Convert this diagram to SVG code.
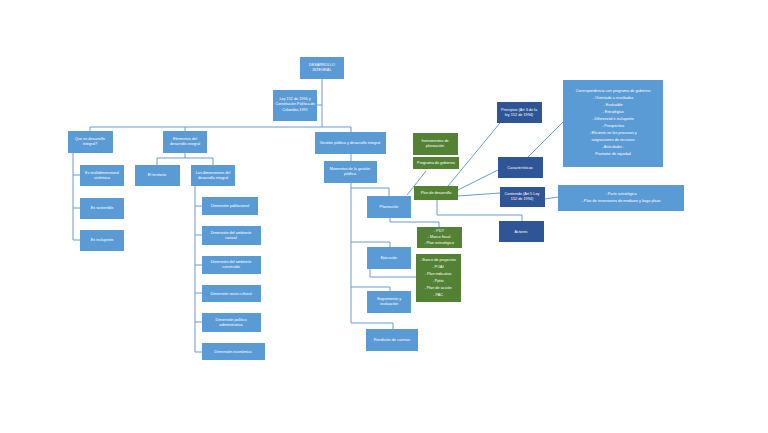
<svg xmlns="http://www.w3.org/2000/svg" width="768" height="433" viewBox="0 0 768 433">
<style>
.l{fill:#5b9bd5}.d{fill:#2f5597}.g{fill:#548235}
text{font-family:"Liberation Sans",Arial,sans-serif;font-size:3.8px;fill:#fff;text-anchor:middle}
.c path,.c line{stroke:#6a9bd0;stroke-width:1;fill:none}
</style>
<rect width="768" height="433" fill="#fff"/>
<g class="c">
<path d="M322 79V127M90 127H351V132M90 127V131M185 127V131"/>
<path d="M317 105H322"/>
<path d="M73 153V240H80M73 175H80M73 208H80"/>
<path d="M185 153V158H157V165M185 158H213V165"/>
<path d="M195 186V352H202M195 206H202M195 235H202M195 265H202M195 293H202M195 322H202"/>
<path d="M351 154V161"/>
<path d="M351 183V323H393V330M351 188H389V197M351 242H390V247M351 287H390V291"/>
<path d="M390 218V222H439V227"/>
<path d="M370 269V277H417"/>
<line x1="407" y1="195" x2="426" y2="171"/>
<line x1="448" y1="186" x2="500" y2="123"/>
<line x1="458" y1="190" x2="498" y2="170"/>
<line x1="458" y1="196" x2="500" y2="193"/>
<path d="M437 200V215H522V221"/>
<line x1="528" y1="157" x2="563" y2="122"/>
<line x1="545" y1="199" x2="558" y2="197"/>
</g>
<g id="n1"><rect class="l" x="300" y="57" width="44" height="22"/><text x="322" y="66">DESARROLLO</text><text x="322" y="71">INTEGRAL</text></g>
<g id="n2"><rect class="l" x="273" y="90" width="44" height="31"/><text x="295" y="100">Ley 152 de 1994 y</text><text x="295" y="105">Constitución Política de</text><text x="295" y="111">Colombia 1991</text></g>
<g id="n3"><rect class="l" x="68" y="131" width="45" height="22"/><text x="90" y="140">Que es desarrollo</text><text x="90" y="145">integral?</text></g>
<g id="n4"><rect class="l" x="163" y="131" width="44" height="22"/><text x="185" y="140">Elementos del</text><text x="185" y="145">desarrollo integral</text></g>
<g id="n5"><rect class="l" x="315" y="132" width="71" height="22"/><text x="350" y="144">Gestión pública y desarrollo integral</text></g>
<g id="n6"><rect class="l" x="80" y="165" width="44" height="21"/><text x="102" y="174">Es multidimensional</text><text x="102" y="179">sistémico</text></g>
<g id="n7"><rect class="l" x="80" y="198" width="44" height="21"/><text x="102" y="209">Es sostenible</text></g>
<g id="n8"><rect class="l" x="80" y="230" width="44" height="21"/><text x="102" y="241">Es incluyente</text></g>
<g id="n9"><rect class="l" x="135" y="165" width="45" height="21"/><text x="157" y="176">El territorio</text></g>
<g id="n10"><rect class="l" x="191" y="165" width="44" height="21"/><text x="213" y="174">Las dimensiones del</text><text x="213" y="179">desarrollo integral</text></g>
<g id="n11"><rect class="l" x="202" y="197" width="56" height="18"/><text x="230" y="207">Dimensión poblacional</text></g>
<g id="n12"><rect class="l" x="202" y="226" width="59" height="19"/><text x="231" y="234">Dimensión del ambiente</text><text x="231" y="239">natural</text></g>
<g id="n13"><rect class="l" x="202" y="256" width="59" height="18"/><text x="231" y="263">Dimensión del ambiente</text><text x="231" y="268">construido</text></g>
<g id="n14"><rect class="l" x="202" y="285" width="59" height="17"/><text x="231" y="295">Dimensión socio cultural</text></g>
<g id="n15"><rect class="l" x="202" y="313" width="59" height="19"/><text x="231" y="321">Dimensión político</text><text x="231" y="326">administrativa</text></g>
<g id="n16"><rect class="l" x="202" y="343" width="63" height="17"/><text x="233" y="353">Dimensión económica</text></g>
<g id="n17"><rect class="l" x="324" y="161" width="53" height="22"/><text x="350" y="170">Momentos de la gestión</text><text x="350" y="175">pública</text></g>
<g id="n18"><rect class="l" x="367" y="196" width="44" height="22"/><text x="389" y="208">Planeación</text></g>
<g id="n19"><rect class="l" x="367" y="247" width="44" height="22"/><text x="389" y="259">Ejecución</text></g>
<g id="n20"><rect class="l" x="367" y="291" width="44" height="22"/><text x="389" y="300">Seguimiento y</text><text x="389" y="305">evaluación</text></g>
<g id="n21"><rect class="l" x="366" y="329" width="52" height="22"/><text x="392" y="341">Rendición de cuentas</text></g>
<g id="n22"><rect class="g" x="413" y="133" width="45" height="22"/><text x="435" y="142">Instrumentos de</text><text x="435" y="147">planeación</text></g>
<g id="n23"><rect class="g" x="413" y="157" width="46" height="12"/><text x="436" y="164">Programa de gobierno</text></g>
<g id="n24"><rect class="g" x="414" y="186" width="44" height="14"/><text x="436" y="194">Plan de desarrollo</text></g>
<g id="n25"><rect class="g" x="417" y="227" width="45" height="21"/><text x="439" y="232">- PDT</text><text x="439" y="238">- Marco fiscal</text><text x="439" y="244">- Plan estratégico</text></g>
<g id="n26"><rect class="g" x="416" y="254" width="45" height="48"/><text x="438" y="261">- Banco de proyectos</text><text x="438" y="268">- POAI</text><text x="438" y="275">- Plan indicativo</text><text x="438" y="282">- Pptto</text><text x="438" y="289">- Plan de acción</text><text x="438" y="296">- PAC</text></g>
<g id="n27"><rect class="d" x="497" y="102" width="45" height="21"/><text x="519" y="111">Principios (Art 3 de la</text><text x="519" y="116">ley  152 de 1994)</text></g>
<g id="n28"><rect class="d" x="498" y="157" width="45" height="21"/><text x="520" y="169">Características</text></g>
<g id="n29"><rect class="d" x="500" y="187" width="45" height="20"/><text x="522" y="195">Contenido (Art 5 Ley</text><text x="522" y="200">152 de 1994)</text></g>
<g id="n30"><rect class="d" x="499" y="221" width="45" height="21"/><text x="521" y="233">Actores</text></g>
<g id="n31"><rect class="l" x="563" y="80" width="100" height="87"/>
<text x="613" y="92">Correspondencia con programa de gobierno</text><text x="613" y="99">- Orientado a resultados</text><text x="613" y="106">- Evaluable</text><text x="613" y="113">- Estratégico</text><text x="613" y="120">- Diferencial e incluyente</text><text x="613" y="127">- Prospectivo</text><text x="613" y="134">- Eficiente en los procesos y</text><text x="613" y="141">asignaciones de recursos</text><text x="613" y="148">- Articulador -</text><text x="613" y="155">Promotor de equidad</text></g>
<g id="n32"><rect class="l" x="558" y="185" width="126" height="26"/><text x="621" y="195">- Parte estratégica</text><text x="621" y="202">- Plan de inversiones de mediano y largo plazo</text></g>
</svg>
